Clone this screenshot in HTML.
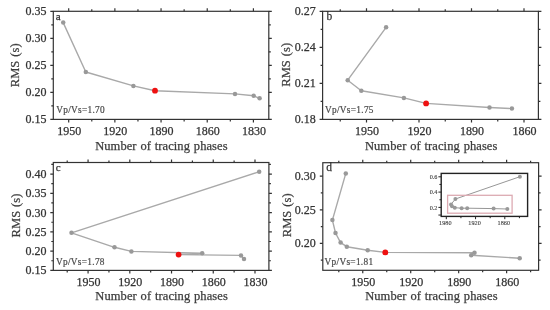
<!DOCTYPE html>
<html><head><meta charset="utf-8"><style>
html,body{margin:0;padding:0;background:#fff;}
body{width:550px;height:310px;overflow:hidden;}
svg{display:block;}

text{font-family:"Liberation Serif", serif;fill:#333;stroke:#333;stroke-width:0.25px;}
text.t{letter-spacing:0.08px;word-spacing:0.6px;fill:#3c3c3c;stroke:#3c3c3c;}
text.i{fill:#444;stroke:#444;stroke-width:0.12px;}
text.v{fill:#4a4a4a;stroke:#4a4a4a;stroke-width:0.2px;letter-spacing:0.3px;}
</style></head><body>
<div id="w"><svg width="550" height="310" viewBox="0 0 550 310">
<rect width="550" height="310" fill="#fff"/>
<rect x="53.3" y="11.3" width="215.5" height="108.1" fill="none" stroke="#333" stroke-width="1.2"/>
<path d="M53.3 119.4h-3M268.8 119.4h3M53.3 105.89h-2M268.8 105.89h2M53.3 92.37h-3M268.8 92.37h3M53.3 78.86h-2M268.8 78.86h2M53.3 65.35h-3M268.8 65.35h3M53.3 51.84h-2M268.8 51.84h2M53.3 38.32h-3M268.8 38.32h3M53.3 24.81h-2M268.8 24.81h2M53.3 11.3h-3M268.8 11.3h3M68.69 119.4v3M68.69 11.3v-3M91.78 119.4v2M91.78 11.3v-2M114.87 119.4v3M114.87 11.3v-3M137.96 119.4v2M137.96 11.3v-2M161.05 119.4v3M161.05 11.3v-3M184.14 119.4v2M184.14 11.3v-2M207.23 119.4v3M207.23 11.3v-3M230.32 119.4v2M230.32 11.3v-2M253.41 119.4v3M253.41 11.3v-3" stroke="#333" stroke-width="1.2" fill="none"/>
<text x="46.5" y="123.3" text-anchor="end" font-size="12">0.15</text>
<text x="46.5" y="96.27" text-anchor="end" font-size="12">0.20</text>
<text x="46.5" y="69.25" text-anchor="end" font-size="12">0.25</text>
<text x="46.5" y="42.22" text-anchor="end" font-size="12">0.30</text>
<text x="46.5" y="15.2" text-anchor="end" font-size="12">0.35</text>
<text x="69.19" y="134.8" text-anchor="middle" font-size="12">1950</text>
<text x="115.37" y="134.8" text-anchor="middle" font-size="12">1920</text>
<text x="161.55" y="134.8" text-anchor="middle" font-size="12">1890</text>
<text x="207.73" y="134.8" text-anchor="middle" font-size="12">1860</text>
<text x="253.91" y="134.8" text-anchor="middle" font-size="12">1830</text>
<polyline points="63.2,22.6 85.8,72 133.4,85.9 155,90.7 235,93.9 253.7,95.8 259.6,98.3" fill="none" stroke="#a9a9a9" stroke-width="1.4" stroke-linejoin="round"/>
<circle cx="63.2" cy="22.6" r="2.25" fill="#999"/>
<circle cx="85.8" cy="72" r="2.25" fill="#999"/>
<circle cx="133.4" cy="85.9" r="2.25" fill="#999"/>
<circle cx="235" cy="93.9" r="2.25" fill="#999"/>
<circle cx="253.7" cy="95.8" r="2.25" fill="#999"/>
<circle cx="259.6" cy="98.3" r="2.25" fill="#999"/>
<circle cx="155" cy="90.7" r="2.9" fill="#ee1111"/>
<rect x="322.6" y="11.3" width="215.8" height="108.1" fill="none" stroke="#333" stroke-width="1.2"/>
<path d="M322.6 119.4h-3M538.4 119.4h3M322.6 101.38h-2M538.4 101.38h2M322.6 83.37h-3M538.4 83.37h3M322.6 65.35h-2M538.4 65.35h2M322.6 47.33h-3M538.4 47.33h3M322.6 29.32h-2M538.4 29.32h2M322.6 11.3h-3M538.4 11.3h3M340.25 119.4v2M340.25 11.3v-2M366.5 119.4v3M366.5 11.3v-3M392.75 119.4v2M392.75 11.3v-2M419 119.4v3M419 11.3v-3M445.25 119.4v2M445.25 11.3v-2M471.5 119.4v3M471.5 11.3v-3M497.75 119.4v2M497.75 11.3v-2M524 119.4v3M524 11.3v-3" stroke="#333" stroke-width="1.2" fill="none"/>
<text x="315.8" y="123.3" text-anchor="end" font-size="12">0.18</text>
<text x="315.8" y="87.27" text-anchor="end" font-size="12">0.21</text>
<text x="315.8" y="51.23" text-anchor="end" font-size="12">0.24</text>
<text x="315.8" y="15.2" text-anchor="end" font-size="12">0.27</text>
<text x="367" y="134.8" text-anchor="middle" font-size="12">1950</text>
<text x="419.5" y="134.8" text-anchor="middle" font-size="12">1920</text>
<text x="472" y="134.8" text-anchor="middle" font-size="12">1890</text>
<text x="524.5" y="134.8" text-anchor="middle" font-size="12">1860</text>
<polyline points="386.1,27.3 347.7,80.2 361.3,90.8 403.9,97.9 426.1,103.4 489.5,107.5 511.9,108.6" fill="none" stroke="#a9a9a9" stroke-width="1.4" stroke-linejoin="round"/>
<circle cx="386.1" cy="27.3" r="2.25" fill="#999"/>
<circle cx="347.7" cy="80.2" r="2.25" fill="#999"/>
<circle cx="361.3" cy="90.8" r="2.25" fill="#999"/>
<circle cx="403.9" cy="97.9" r="2.25" fill="#999"/>
<circle cx="489.5" cy="107.5" r="2.25" fill="#999"/>
<circle cx="511.9" cy="108.6" r="2.25" fill="#999"/>
<circle cx="426.1" cy="103.4" r="2.9" fill="#ee1111"/>
<rect x="53.3" y="162.5" width="215.6" height="107.9" fill="none" stroke="#333" stroke-width="1.2"/>
<path d="M53.3 270.4h-3M268.9 270.4h3M53.3 260.77h-2M268.9 260.77h2M53.3 251.13h-3M268.9 251.13h3M53.3 241.5h-2M268.9 241.5h2M53.3 231.86h-3M268.9 231.86h3M53.3 222.23h-2M268.9 222.23h2M53.3 212.6h-3M268.9 212.6h3M53.3 202.96h-2M268.9 202.96h2M53.3 193.33h-3M268.9 193.33h3M53.3 183.69h-2M268.9 183.69h2M53.3 174.06h-3M268.9 174.06h3M53.3 164.43h-2M268.9 164.43h2M67.21 270.4v2M67.21 162.5v-2M88.07 270.4v3M88.07 162.5v-3M108.94 270.4v2M108.94 162.5v-2M129.8 270.4v3M129.8 162.5v-3M150.67 270.4v2M150.67 162.5v-2M171.53 270.4v3M171.53 162.5v-3M192.4 270.4v2M192.4 162.5v-2M213.26 270.4v3M213.26 162.5v-3M234.13 270.4v2M234.13 162.5v-2M254.99 270.4v3M254.99 162.5v-3" stroke="#333" stroke-width="1.2" fill="none"/>
<text x="46.5" y="274.3" text-anchor="end" font-size="12">0.15</text>
<text x="46.5" y="255.03" text-anchor="end" font-size="12">0.20</text>
<text x="46.5" y="235.76" text-anchor="end" font-size="12">0.25</text>
<text x="46.5" y="216.5" text-anchor="end" font-size="12">0.30</text>
<text x="46.5" y="197.23" text-anchor="end" font-size="12">0.35</text>
<text x="46.5" y="177.96" text-anchor="end" font-size="12">0.40</text>
<text x="88.57" y="285.8" text-anchor="middle" font-size="12">1950</text>
<text x="130.3" y="285.8" text-anchor="middle" font-size="12">1920</text>
<text x="172.03" y="285.8" text-anchor="middle" font-size="12">1890</text>
<text x="213.76" y="285.8" text-anchor="middle" font-size="12">1860</text>
<text x="255.49" y="285.8" text-anchor="middle" font-size="12">1830</text>
<polyline points="259.2,171.7 71.5,232.8 114.5,247.3 131.4,251.4 202.2,253.2 178.6,254.6 241,255.4 244,259" fill="none" stroke="#a9a9a9" stroke-width="1.4" stroke-linejoin="round"/>
<circle cx="259.2" cy="171.7" r="2.25" fill="#999"/>
<circle cx="71.5" cy="232.8" r="2.25" fill="#999"/>
<circle cx="114.5" cy="247.3" r="2.25" fill="#999"/>
<circle cx="131.4" cy="251.4" r="2.25" fill="#999"/>
<circle cx="202.2" cy="253.2" r="2.25" fill="#999"/>
<circle cx="241" cy="255.4" r="2.25" fill="#999"/>
<circle cx="244" cy="259" r="2.25" fill="#999"/>
<circle cx="178.6" cy="254.6" r="2.9" fill="#ee1111"/>
<rect x="322.8" y="162.7" width="215.8" height="107.6" fill="none" stroke="#333" stroke-width="1.2"/>
<path d="M322.8 260.21h-2M538.6 260.21h2M322.8 243.4h-3M538.6 243.4h3M322.8 226.59h-2M538.6 226.59h2M322.8 209.78h-3M538.6 209.78h3M322.8 192.96h-2M538.6 192.96h2M322.8 176.15h-3M538.6 176.15h3M338.79 270.3v2M338.79 162.7v-2M362.76 270.3v3M362.76 162.7v-3M386.74 270.3v2M386.74 162.7v-2M410.72 270.3v3M410.72 162.7v-3M434.7 270.3v2M434.7 162.7v-2M458.67 270.3v3M458.67 162.7v-3M482.65 270.3v2M482.65 162.7v-2M506.63 270.3v3M506.63 162.7v-3M530.61 270.3v2M530.61 162.7v-2" stroke="#333" stroke-width="1.2" fill="none"/>
<text x="315.8" y="247.3" text-anchor="end" font-size="12">0.20</text>
<text x="315.8" y="213.68" text-anchor="end" font-size="12">0.25</text>
<text x="315.8" y="180.05" text-anchor="end" font-size="12">0.30</text>
<text x="363.26" y="285.8" text-anchor="middle" font-size="12">1950</text>
<text x="411.22" y="285.8" text-anchor="middle" font-size="12">1920</text>
<text x="459.17" y="285.8" text-anchor="middle" font-size="12">1890</text>
<text x="507.13" y="285.8" text-anchor="middle" font-size="12">1860</text>
<polyline points="345.8,173.4 332.4,220.1 335.5,233 340.6,242.6 346.8,246.7 367.7,250.3 385.3,252.4 474.5,252.8 471.2,255.3 519.7,258.2" fill="none" stroke="#a9a9a9" stroke-width="1.4" stroke-linejoin="round"/>
<circle cx="345.8" cy="173.4" r="2.25" fill="#999"/>
<circle cx="332.4" cy="220.1" r="2.25" fill="#999"/>
<circle cx="335.5" cy="233" r="2.25" fill="#999"/>
<circle cx="340.6" cy="242.6" r="2.25" fill="#999"/>
<circle cx="346.8" cy="246.7" r="2.25" fill="#999"/>
<circle cx="367.7" cy="250.3" r="2.25" fill="#999"/>
<circle cx="474.5" cy="252.8" r="2.25" fill="#999"/>
<circle cx="471.2" cy="255.3" r="2.25" fill="#999"/>
<circle cx="519.7" cy="258.2" r="2.25" fill="#999"/>
<circle cx="385.3" cy="252.4" r="2.9" fill="#ee1111"/>
<rect x="441.2" y="173.4" width="86.4" height="43" fill="none" stroke="#222" stroke-width="1.4"/>
<path d="M441.2 215.05h-2.8M441.2 207.4h-2.8M441.2 199.75h-1.8M441.2 192.1h-2.8M441.2 184.45h-1.8M441.2 176.8h-2.8M446.3 216.4v2.8M460.93 216.4v1.8M475.55 216.4v2.8M490.18 216.4v1.8M504.8 216.4v2.8M519.42 216.4v1.8" stroke="#222" stroke-width="1.0" fill="none"/>
<text class="i" x="437.4" y="209.5" text-anchor="end" font-size="6.2">0.2</text>
<text class="i" x="437.4" y="194.2" text-anchor="end" font-size="6.2">0.4</text>
<text class="i" x="437.4" y="178.9" text-anchor="end" font-size="6.2">0.6</text>
<text class="i" x="445.3" y="225.2" text-anchor="middle" font-size="6.2">1980</text>
<text class="i" x="474.55" y="225.2" text-anchor="middle" font-size="6.2">1920</text>
<text class="i" x="503.8" y="225.2" text-anchor="middle" font-size="6.2">1860</text>
<polyline points="519.9,176.7 455.4,199 451,204.4 452,206.3 454.8,207.7 461.6,208.2 467.2,208.2 493.6,208.6 507.3,209" fill="none" stroke="#8a8a8a" stroke-width="0.9" stroke-linejoin="round"/>
<circle cx="519.9" cy="176.7" r="2.0" fill="#999"/>
<circle cx="455.4" cy="199" r="2.0" fill="#999"/>
<circle cx="451" cy="204.4" r="2.0" fill="#999"/>
<circle cx="452" cy="206.3" r="2.0" fill="#999"/>
<circle cx="454.8" cy="207.7" r="2.0" fill="#999"/>
<circle cx="461.6" cy="208.2" r="2.0" fill="#999"/>
<circle cx="467.2" cy="208.2" r="2.0" fill="#999"/>
<circle cx="493.6" cy="208.6" r="2.0" fill="#999"/>
<circle cx="507.3" cy="209" r="2.0" fill="#999"/>
<rect x="447.6" y="195.3" width="64.5" height="17.9" fill="none" stroke="#dcaab2" stroke-width="1.3"/>
<text x="55.8" y="20.1" font-size="11">a</text>
<text x="326.6" y="20" font-size="11.5">b</text>
<text x="55.7" y="171.2" font-size="11">c</text>
<text x="326.3" y="171.2" font-size="11.5">d</text>
<text class="v" x="56.2" y="113" font-size="9.3">Vp/Vs=1.70</text>
<text class="v" x="325" y="112.8" font-size="9.3">Vp/Vs=1.75</text>
<text class="v" x="56" y="265" font-size="9.3">Vp/Vs=1.78</text>
<text class="v" x="324.6" y="265.1" font-size="9.3">Vp/Vs=1.81</text>
<text class="t" x="161.4" y="149.8" text-anchor="middle" font-size="12.5">Number of tracing phases</text>
<text class="t" x="431.2" y="149.8" text-anchor="middle" font-size="12.5">Number of tracing phases</text>
<text class="t" x="161.6" y="299.8" text-anchor="middle" font-size="12.5">Number of tracing phases</text>
<text class="t" x="431.4" y="299.8" text-anchor="middle" font-size="12.5">Number of tracing phases</text>
<text class="t" transform="translate(19.4 65.3) rotate(-90)" x="0" y="0" text-anchor="middle" font-size="12.5">RMS (s)</text>
<text class="t" transform="translate(290.2 64.8) rotate(-90)" x="0" y="0" text-anchor="middle" font-size="12.5">RMS (s)</text>
<text class="t" transform="translate(19.5 215.5) rotate(-90)" x="0" y="0" text-anchor="middle" font-size="12.5">RMS (s)</text>
<text class="t" transform="translate(291.2 215.3) rotate(-90)" x="0" y="0" text-anchor="middle" font-size="12.5">RMS (s)</text>
</svg></div>
</body></html>
